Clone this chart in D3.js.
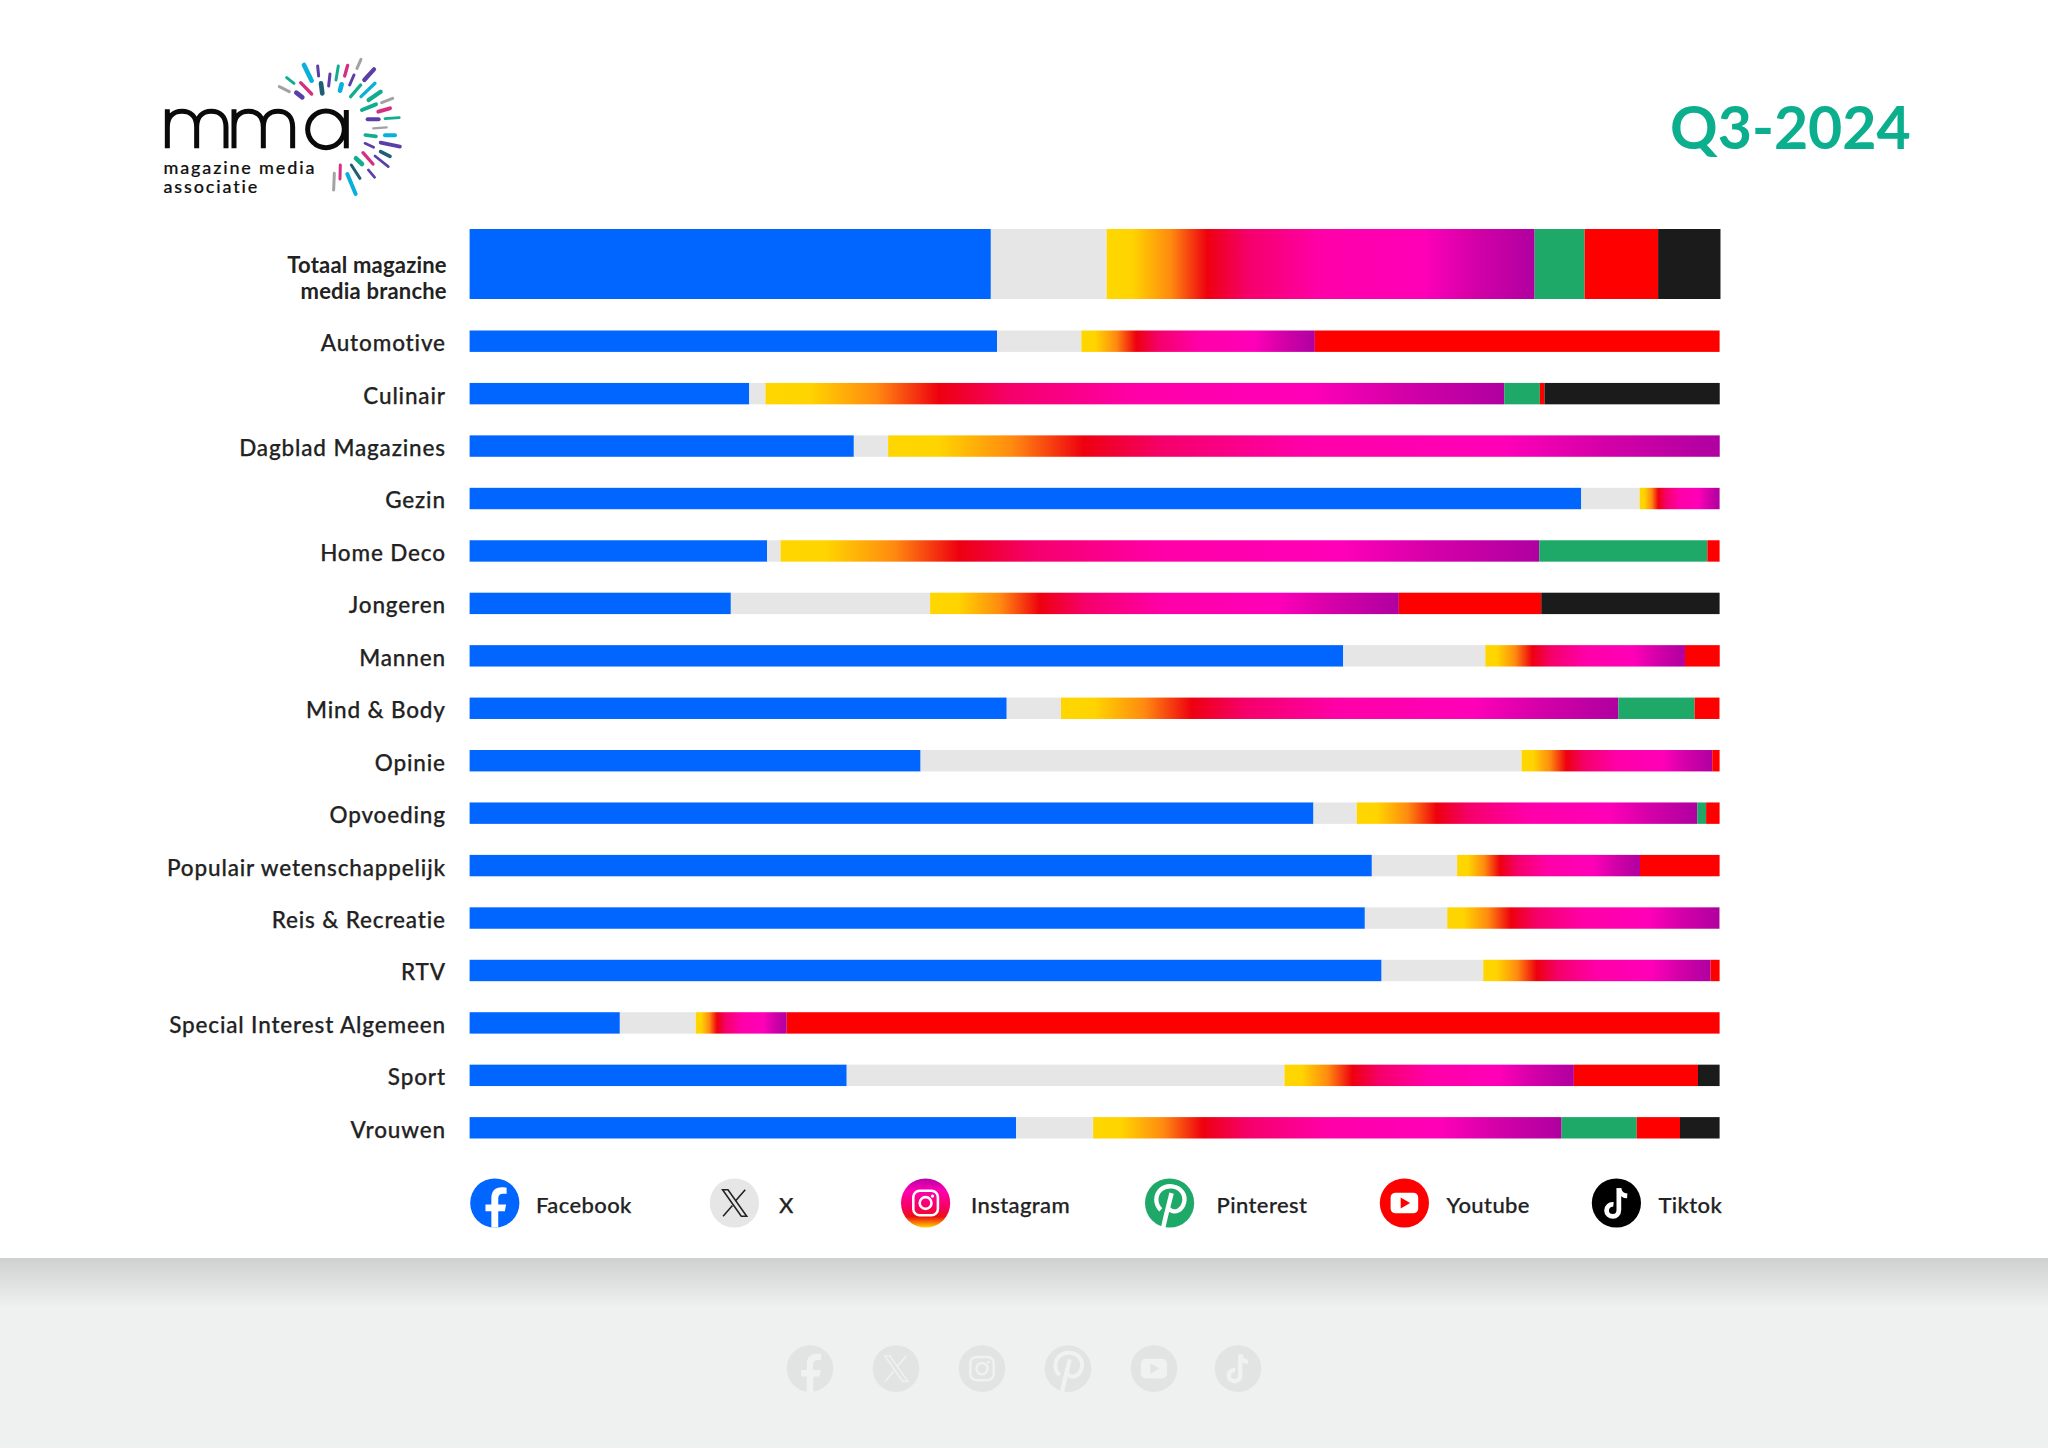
<!DOCTYPE html>
<html><head><meta charset="utf-8">
<script src="https://cdn.jsdelivr.net/npm/d3@7"></script>
<style>
html,body{margin:0;padding:0;background:#fff}
svg{display:block}
text{font-family:Lato,"Open Sans",sans-serif;fill:#222}
</style></head><body>
<svg id="c" width="2048" height="1448"></svg>
<script>
const categories = ["Totaal magazine media branche","Automotive","Culinair","Dagblad Magazines","Gezin","Home Deco","Jongeren","Mannen","Mind & Body","Opinie","Opvoeding","Populair wetenschappelijk","Reis & Recreatie","RTV","Special Interest Algemeen","Sport","Vrouwen"];
const platforms = ["Facebook","X","Instagram","Pinterest","Youtube","Tiktok"];
const facebook  = [41.70,42.20,22.37,30.74,88.93,23.80,20.90,69.89,42.97,36.08,67.51,72.18,71.62,72.96,12.02,30.17,43.72];
const x_        = [ 9.26, 6.74, 1.30, 2.74, 4.67, 1.08,15.94,11.37, 4.34,48.08, 3.46, 6.82, 6.59, 8.13, 6.07,35.02, 6.16];
const instagram = [34.24,18.68,59.10,66.53, 6.40,60.69,37.50,15.97,44.59,15.25,27.24,14.63,21.78,18.19, 7.28,23.15,37.48];
const pinterest = [ 4.00, 0,    2.85, 0,    0,   13.45, 0,    0,    6.10, 0,    0.71, 0,    0,    0,    0,    0,    6.01];
const youtube   = [ 5.88,32.38, 0.37, 0,    0,    0.98,11.39, 2.78, 1.99, 0.59, 1.08, 6.37, 0,    0.72,74.63, 9.93, 3.46];
const tiktok    = [ 4.99, 0,   14.02, 0,    0,    0,   14.27, 0,    0,    0,    0,    0,    0,    0,    0,    1.73, 3.17];
const title = "Q3-2024";

const platformColors = ["#0066ff","#e6e6e6","url(#ig)","#1ea968","#ff0000","#1b1b1b"];

const svg = d3.select("#c");
const defs = svg.append("defs");
const grad = (id,x2,y2,stops)=>{
  const g = defs.append("linearGradient").attr("id",id).attr("x1",0).attr("y1",0).attr("x2",x2).attr("y2",y2);
  stops.forEach(([o,c])=>g.append("stop").attr("offset",o).attr("stop-color",c));
};
grad("ig",1,0,[[0,"#ffd600"],[.06,"#ffd400"],[.15,"#ff8a10"],[.235,"#ee000f"],[.33,"#f5006a"],[.5,"#ff00a8"],[.74,"#ff00b8"],[.86,"#d400a8"],[1,"#b000a0"]]);
grad("igv",0,1,[[0,"#b800a8"],[.25,"#ff00b0"],[.62,"#f5005a"],[.78,"#ee1010"],[1,"#ffd600"]]);
grad("band",0,1,[[0,"#cfd0d0"],[1,"#eff0f0"]]);

/* footer band */
svg.append("rect").attr("x",0).attr("y",1258).attr("width",2048).attr("height",50).attr("fill","url(#band)");
svg.append("rect").attr("x",0).attr("y",1308).attr("width",2048).attr("height",140).attr("fill","#eff0f0");

/* scales */
const x = d3.scaleLinear().domain([0,100]).range([469.6,1719.6]);
const y = d3.scalePoint().domain(categories.slice(1)).range([341.2,1127.8]);
const rowY = c => c===categories[0] ? 264 : y(c);
const rowH = c => c===categories[0] ? 70 : 21.4;

const rows = categories.map((c,i)=>({cat:c,Facebook:facebook[i],X:x_[i],Instagram:instagram[i],Pinterest:pinterest[i],Youtube:youtube[i],Tiktok:tiktok[i]}));
const stack = d3.stack().keys(platforms)(rows);

svg.append("g").selectAll("g").data(stack).join("g")
  .attr("fill",(d,i)=>platformColors[i])
  .selectAll("rect").data(d=>d.filter(s=>s[1]>s[0])).join("rect")
  .attr("x",d=>x(d[0]))
  .attr("width",d=>x(d[1])-x(d[0]))
  .attr("y",d=>rowY(d.data.cat)-rowH(d.data.cat)/2)
  .attr("height",d=>rowH(d.data.cat));

/* category labels */
const lab = svg.append("g").attr("text-anchor","end");
lab.selectAll("text").data(categories.slice(1)).join("text")
  .attr("x",445.9).attr("y",c=>y(c)+9.9)
  .attr("font-size",22.5).attr("font-weight",500).attr("letter-spacing",.85)
  .attr("stroke","#222").attr("stroke-width",.25).text(c=>c);
[["Totaal magazine",272.6],["media branche",298.6]].forEach(([t,b])=>{
  lab.append("text").attr("x",446.8).attr("y",b).attr("font-size",22).attr("font-weight",700).attr("letter-spacing",.2).text(t);
});

/* title */
svg.append("text").attr("x",1670).attr("y",148.6).attr("font-size",59).attr("font-weight",700)
  .style("fill","#0bae8d").text(title);

/* icons */
function icon(g,name,bg,fg,r){
  const s=g.append("g").attr("transform",`scale(${r/25})`);
  s.append("circle").attr("r",25).attr("fill",bg);
  const line=(d,w)=>s.append("path").attr("d",d).attr("fill","none").attr("stroke",fg).attr("stroke-width",w);
  const fill=d=>s.append("path").attr("d",d).attr("fill",fg);
  if(name==="Facebook"){
    fill("M-3.5,25 V8.5 H-9.5 V1.5 H-3.5 V-5 C-3.5,-12 0.5,-16 7,-16 C9.5,-16 11.5,-15.7 12,-15.5 V-9.3 H8.5 C5,-9.3 3.5,-7.5 3.5,-4.5 V1.5 H11.5 L10.2,8.5 H3.5 V25 Z");
  } else if(name==="X"){
    line("M-12,-13.5 H-6.5 L12.5,13.5 H7 Z",1.6);
    line("M11,-13.5 L1.5,-2.5 M-2,2.5 L-11.5,13.5",1.6);
  } else if(name==="Instagram"){
    s.append("rect").attr("x",-12.5).attr("y",-12.5).attr("width",25).attr("height",25).attr("rx",6.5).attr("fill","none").attr("stroke",fg).attr("stroke-width",2.6);
    s.append("circle").attr("r",6).attr("fill","none").attr("stroke",fg).attr("stroke-width",2.6);
    s.append("circle").attr("cx",7).attr("cy",-7).attr("r",1.7).attr("fill",fg);
  } else if(name==="Pinterest"){
    line("M-9,7 C-15,1 -15,-8 -9,-13.5 C-3,-19 8,-18 13,-11 C17,-5 15,4 9,7.5 C5,9.5 1,8.5 -1,5.5",4.4);
    line("M2,-10 L-4,14 L-6.5,25",4.6);
  } else if(name==="Youtube"){
    s.append("rect").attr("x",-14).attr("y",-10.5).attr("width",28).attr("height",21).attr("rx",5).attr("fill",fg);
    s.append("path").attr("d","M-3.8,-5.5 L5.8,0 L-3.8,5.5 Z").attr("fill",bg);
  } else if(name==="Tiktok"){
    line("M2.5,-15 V7 C2.5,11.5 -0.5,13.5 -3.5,13.5 C-7,13.5 -10,11 -10,7.5 C-10,4 -7,1 -3,1.5",4.8);
    line("M2.5,-15 C3,-10.5 6.5,-7.5 11,-7.2",4.8);
  }
}

/* legend */
const legendIconX = [494.8,734.4,925.6,1169.6,1404.4,1616.4];
const legendTextX = [536,779,971,1216.6,1446.6,1658.4];
const legendBg = ["#0066ff","#e6e6e6","url(#igv)","#1ea968","#ff0000","#000000"];
const legendFg = ["#fff","#222","#fff","#fff","#fff","#fff"];
platforms.forEach((p,i)=>{
  icon(svg.append("g").attr("transform",`translate(${legendIconX[i]},1203)`),p,legendBg[i],legendFg[i],24.6);
  svg.append("text").attr("x",legendTextX[i]).attr("y",1212.6).attr("font-size",22).attr("font-weight",500).attr("letter-spacing",.4)
    .attr("stroke","#222").attr("stroke-width",.25).text(p);
});
const footX = [810,896,982,1068,1154,1238];
platforms.forEach((p,i)=>{
  icon(svg.append("g").attr("transform",`translate(${footX[i]},1368.6)`),p,"#e2e3e3","#f0f1f1",23.3);
});

/* logo: drawn in its own 3x-scaled box */
const logo = svg.append("g").attr("transform","translate(130,40) scale(.3333)");
const C={c:"#0ab0dc",p:"#5a3fa8",g:"#12ad8f",k:"#d4307f",y:"#a2a2a2",t:"#1d5f73"};
[[522,75,545,122,14,"c"],[563,78,566,108,9,"p"],[625,78,618,120,9,"g"],[653,76,644,108,10,"k"],[693,58,681,85,9,"y"],[732,88,703,120,13,"p"],
 [470,113,492,130,9,"g"],[512,128,545,162,10,"k"],[448,140,478,155,9,"y"],[499,158,517,172,14,"p"],[573,130,577,160,14,"t"],[600,102,596,138,9,"p"],
 [635,133,630,152,14,"c"],[672,105,659,135,9,"p"],[692,135,662,170,10,"g"],[735,130,693,170,10,"c"],[752,155,716,180,13,"g"],[788,175,755,188,9,"y"],
 [738,193,696,210,12,"g"],[780,205,745,215,12,"k"],[713,238,746,238,12,"p"],[765,236,808,233,8,"g"],[730,265,770,262,7,"y"],[706,285,738,289,11,"g"],
 [765,286,795,286,12,"c"],[752,308,810,320,11,"p"],[705,310,731,322,8,"p"],[752,335,780,349,11,"t"],[699,338,729,372,10,"k"],[678,355,696,372,14,"g"],
 [735,348,775,380,8,"p"],[664,375,690,415,9,"t"],[715,390,734,412,8,"p"],[631,375,630,417,9,"k"],[652,402,677,462,12,"c"],[613,400,611,450,9,"y"]
].forEach(([a,b,c,d,w,k])=>logo.append("line").attr("x1",a).attr("y1",b).attr("x2",c).attr("y2",d).attr("stroke",C[k]).attr("stroke-width",w).attr("stroke-linecap","round"));
const arch=(a,b)=>`M${a},262 C${a},230 ${a+18},214 ${(a+b)/2},214 C${b-18},214 ${b},230 ${b},262 V325`;
const mm=(s)=>`M${s},208 V325 `+arch(s,s+88)+" "+arch(s+88,s+176);
logo.append("path").attr("d",mm(112)+" "+mm(312)).attr("fill","none").attr("stroke","#0a0a0a").attr("stroke-width",15);
logo.append("circle").attr("cx",588).attr("cy",268).attr("r",55).attr("fill","none").attr("stroke","#0a0a0a").attr("stroke-width",15);
logo.append("path").attr("d","M649,210 V325").attr("stroke","#0a0a0a").attr("stroke-width",15);
[["magazine media",163.5,173.8],["associatie",163.5,192.8]].forEach(([t,a,b])=>{
  svg.append("text").attr("x",a).attr("y",b).attr("font-size",18).attr("font-weight",500).attr("letter-spacing",1.85).attr("stroke","#111").attr("stroke-width",.2).style("fill","#111").text(t);
});
</script></body></html>
